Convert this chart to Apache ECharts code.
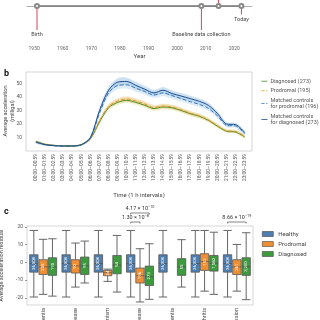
<!DOCTYPE html>
<html>
<head>
<meta charset="utf-8">
<script src="https://cdn.jsdelivr.net/npm/echarts@6/dist/echarts.min.js"></script>
<style>
html, body {margin: 0; padding: 0; background: #fff;}
#main {width: 320px; height: 320px;}
</style>
</head>
<body>
<div id="main"></div>
<script>
var FONT = 'Roboto, "Liberation Sans", sans-serif';

// ---- panel a : timeline
var yearTicks = [1950, 1960, 1970, 1980, 1990, 2000, 2010, 2020];
var eventYears = [1951, 2008.5, 2014.5, 2022.5];
var eventNames = ['Birth', 'Baseline data collection', '', 'Today'];
var eventStemEnds = [-4, -4, 1, -1.4];

// ---- panel b : 24 h acceleration profiles
var hourLabels = ['00:00–00:59', '01:00–01:59', '02:00–02:59', '03:00–03:59', '04:00–04:59', '05:00–05:59',
    '06:00–06:59', '07:00–07:59', '08:00–08:59', '09:00–09:59', '10:00–10:59', '11:00–11:59',
    '12:00–12:59', '13:00–13:59', '14:00–14:59', '15:00–15:59', '16:00–16:59', '17:00–17:59',
    '18:00–18:59', '19:00–19:59', '20:00–20:59', '21:00–21:59', '22:00–22:59', '23:00–23:59'];
var hourIndex = [0, 1, 2, 3, 4, 5, 6, 7, 8, 9, 10, 11, 12, 13, 14, 15, 16, 17, 18, 19, 20, 21, 22, 23];
var diagnosed = [7.0, 5.0, 4.2, 3.8, 3.8, 4.6, 9.0, 21.5, 32.0, 36.0, 37.5, 36.0, 33.8, 31.4, 32.6, 32.0, 30.0, 27.6, 25.7, 22.7, 18.3, 14.6, 14.0, 10.4];
var prodromal = [6.8, 4.9, 4.1, 3.8, 3.8, 4.6, 9.2, 22.5, 33.0, 37.0, 38.5, 37.0, 34.8, 32.2, 33.2, 32.5, 30.5, 28.0, 26.0, 23.0, 18.8, 15.0, 14.5, 10.8];
var ctrlProdromal = [6.5, 4.6, 3.9, 3.6, 3.6, 4.6, 9.5, 28.0, 43.0, 48.5, 49.0, 46.5, 44.0, 41.5, 43.0, 41.0, 38.8, 36.5, 34.5, 31.5, 26.0, 19.0, 18.5, 13.0];
var ctrlDiagnosed = [6.7, 4.7, 4.0, 3.7, 3.7, 4.7, 10.0, 30.0, 45.0, 51.0, 51.5, 48.6, 45.7, 43.0, 45.0, 42.5, 40.7, 38.8, 36.8, 33.8, 27.7, 20.0, 19.5, 13.6];
var ciControls = [1.0, 0.7, 0.6, 0.6, 0.6, 0.7, 1.0, 2.0, 2.5, 2.8, 2.8, 2.6, 2.4, 2.3, 2.4, 2.3, 2.2, 2.1, 2.0, 1.9, 1.7, 1.4, 1.4, 1.2];
var ciCases = [0.8, 0.6, 0.5, 0.5, 0.5, 0.6, 0.9, 1.5, 1.8, 2.0, 2.0, 1.9, 1.8, 1.7, 1.8, 1.7, 1.6, 1.6, 1.5, 1.4, 1.3, 1.1, 1.1, 1.0];

// ---- panel c : residuals per disorder [low, q1, median, q3, high]
var disorders = ['All-cause dementia', "Alzheimer's disease", 'Parkinsonism', "Parkinson's disease",
    'Vascular dementia', 'Osteoarthritis', 'Depression'];
var healthyBox = [
    [-19.5, -5.5, -0.7, 4.3, 18], [-19.5, -5.5, -0.7, 4.3, 18], [-19.5, -5.5, -0.7, 4.3, 18],
    [-19.5, -5.5, -0.7, 4.3, 18], [-19.5, -5.5, -0.7, 4.3, 18], [-19.5, -5.5, -0.7, 4.3, 18],
    [-19.5, -5.5, -0.7, 4.3, 18]];
var prodromalBox = [
    [-18, -6.8, -2.5, 1.5, 13], [-13.9, -6, -2, 1.5, 10.9], [-10.7, -7.5, -5.8, -4.5, -3.8],
    [-22.3, -11.6, -7.5, -3.2, 7.7], null, [-16.2, -4.5, 0.5, 4.9, 18], [-16.2, -6.8, -2.5, 1.5, 10.1]];
var diagnosedBox = [
    [-19, -7.3, -2.5, 2.6, 13.3], [-11.6, -6.8, -2, 3, 12], [-16.7, -6.4, -1.5, 3.9, 15.2],
    [-20.8, -13, -8, -2.1, 10.5], [-13.9, -7.3, -2.5, 2.1, 12.8], [-18, -4.9, -0.5, 3.9, 17],
    [-21, -7.3, -2.5, 2.6, 16.7]];
var healthyN = ['36,008', '36,008', '36,008', '36,008', '36,008', '36,008', '36,008'];
var prodromalN = ['205', '90', '24', '196', '', '152', '261'];
var diagnosedN = ['190', '95', '54', '273', '55', '1,560', '3,230'];

var BOX_W = 8.4, BOX_STEP = 9.3;

var chart = echarts.init(document.getElementById('main'));

function bandSeries(vals, ci, color, opacity) {
    return {
        type: 'custom', xAxisIndex: 1, yAxisIndex: 1, silent: true, z: 1,
        data: hourIndex.map(function (h, i) { return [h, vals[i] - ci[i], vals[i] + ci[i]]; }),
        renderItem: function (params, api) {
            if (params.dataIndex !== 0) return;
            var up = [], lo = [];
            hourIndex.forEach(function (h, i) {
                up.push(api.coord([h, vals[i] + ci[i]]));
                lo.unshift(api.coord([h, vals[i] - ci[i]]));
            });
            return {type: 'polygon', shape: {points: up.concat(lo), smooth: 0.3}, style: {fill: color, opacity: opacity}};
        }
    };
}

function lineSeries(name, vals, color, type) {
    return {
        name: name, type: 'line', xAxisIndex: 1, yAxisIndex: 1, symbol: 'none', smooth: 0.3, z: 3,
        data: hourIndex.map(function (h, i) { return [h, vals[i]]; }),
        lineStyle: {color: color, width: 1, type: type}, itemStyle: {color: color}
    };
}

function boxSeries(name, rows, counts, color, slot) {
    var data = [];
    rows.forEach(function (r, i) { if (r) data.push([i].concat(r)); });
    return {
        name: name, type: 'custom', xAxisIndex: 2, yAxisIndex: 2, itemStyle: {color: color},
        data: data,
        renderItem: function (params, api) {
            var cat = api.value(0);
            var cx = api.coord([cat, 0])[0] + slot * BOX_STEP;
            var yl = api.coord([cat, api.value(1)])[1];
            var y1 = api.coord([cat, api.value(2)])[1];
            var ym = api.coord([cat, api.value(3)])[1];
            var y3 = api.coord([cat, api.value(4)])[1];
            var yh = api.coord([cat, api.value(5)])[1];
            var h = BOX_W / 2, wc = '#666';
            return {type: 'group', children: [
                {type: 'line', shape: {x1: cx, y1: yh, x2: cx, y2: y3}, style: {stroke: wc, lineWidth: 1}},
                {type: 'line', shape: {x1: cx, y1: y1, x2: cx, y2: yl}, style: {stroke: wc, lineWidth: 1}},
                {type: 'line', shape: {x1: cx - h, y1: yh, x2: cx + h, y2: yh}, style: {stroke: wc, lineWidth: 1}},
                {type: 'line', shape: {x1: cx - h, y1: yl, x2: cx + h, y2: yl}, style: {stroke: wc, lineWidth: 1}},
                {type: 'rect', shape: {x: cx - h, y: y3, width: BOX_W, height: y1 - y3},
                    style: {fill: color, stroke: '#555', lineWidth: 0.8}},
                {type: 'line', shape: {x1: cx - h, y1: ym, x2: cx + h, y2: ym}, style: {stroke: '#444', lineWidth: 0.6}},
                {type: 'text', x: cx, y: (y1 + y3) / 2, rotation: Math.PI / 2,
                    style: {text: counts[cat], fill: '#fff', fontSize: 4.3, fontFamily: FONT, align: 'center', verticalAlign: 'middle'}}
            ]};
        }
    };
}

var option = {
    animation: false,
    backgroundColor: '#fff',
    textStyle: {fontFamily: FONT},
    title: [
        {text: 'b', left: -1, top: 64, textStyle: {fontSize: 9, fontWeight: 'bold', color: '#111'}},
        {text: 'c', left: -1, top: 202, textStyle: {fontSize: 9, fontWeight: 'bold', color: '#111'}}
    ],
    legend: [{
        data: ['Diagnosed (273)', 'Prodromal (195)', 'Matched controls\nfor prodromal (196)', 'Matched controls\nfor diagnosed (273)'],
        orient: 'vertical', left: 256, top: 73, itemWidth: 6, itemHeight: 4, itemGap: 3,
        itemStyle: {opacity: 0}, lineStyle: {width: 0.8},
        textStyle: {fontSize: 5.5, color: '#555', lineHeight: 6.5, padding: [0, 0, 0, -2]}
    }, {
        data: ['Healthy', 'Prodromal', 'Diagnosed'],
        orient: 'vertical', left: 257, top: 226, itemWidth: 11, itemHeight: 5, itemGap: 4, icon: 'rect',
        itemStyle: {borderColor: '#444', borderWidth: 0.6},
        textStyle: {fontSize: 6, color: '#444'}
    }],
    grid: [
        {left: 27, right: 68, top: 0, height: 42, outerBoundsMode: 'none'},
        {left: 26, right: 68, top: 72, height: 79, show: true, borderColor: '#ccc', borderWidth: 0.8, outerBoundsMode: 'none'},
        {left: 27, right: 67, top: 226, height: 79, show: true, borderColor: '#ccc', borderWidth: 0.8, outerBoundsMode: 'none'}
    ],
    xAxis: [{
        gridIndex: 0, type: 'value', min: 1947.5, max: 2026.2,
        name: 'Year', nameLocation: 'middle', nameGap: 11, nameTextStyle: {fontSize: 6, color: '#444'},
        axisLine: {lineStyle: {color: '#999', width: 0.8}}, axisTick: {show: false}, splitLine: {show: false},
        axisLabel: {customValues: yearTicks, fontSize: 5, color: '#666', margin: 4,
            formatter: function (v) { return String(v); }}
    }, {
        gridIndex: 1, type: 'value', min: -1.1, max: 23.8,
        name: 'Time (1 h intervals)', nameLocation: 'middle', nameGap: 41, nameTextStyle: {fontSize: 6, color: '#444'},
        axisLine: {show: false}, axisTick: {show: false}, splitLine: {show: false},
        axisLabel: {customValues: hourIndex, rotate: 90, fontSize: 4.8, color: '#555', margin: 3,
            formatter: function (v) { return hourLabels[v]; }}
    }, {
        gridIndex: 2, type: 'category', data: disorders,
        axisLine: {show: false}, axisTick: {show: false},
        axisLabel: {rotate: 90, fontSize: 5.5, color: '#444', margin: 3, interval: 0}
    }],
    yAxis: [{
        gridIndex: 0, type: 'value', min: -6, max: 1, show: false
    }, {
        gridIndex: 1, type: 'value', min: 0, max: 58.5, interval: 10,
        axisLine: {show: false}, axisTick: {show: false}, splitLine: {show: false},
        axisLabel: {fontSize: 5, color: '#555', margin: 4, showMinLabel: false, showMaxLabel: false}
    }, {
        gridIndex: 2, type: 'value', min: -24, max: 20.5,
        name: 'Average acceleration residual', nameLocation: 'middle', nameGap: 15,
        nameTextStyle: {fontSize: 5.5, color: '#444'},
        axisLine: {show: false}, axisTick: {show: true, customValues: [-20, -10, 0, 10, 20], length: 2, lineStyle: {color: '#999'}},
        splitLine: {show: false},
        axisLabel: {customValues: [-20, -10, 0, 10, 20], fontSize: 5, color: '#555', margin: 4}
    }],
    series: [
        {
            type: 'custom', xAxisIndex: 0, yAxisIndex: 0, silent: true, z: 1,
            data: eventYears.map(function (y, i) { return [y, eventStemEnds[i]]; }),
            renderItem: function (params, api) {
                var p0 = api.coord([api.value(0), 0]);
                var p1 = api.coord([api.value(0), api.value(1)]);
                return {type: 'group', children: [
                    {type: 'line', shape: {x1: p0[0], y1: p0[1], x2: p1[0], y2: p1[1]}, style: {stroke: '#d6455c', lineWidth: 1}},
                    {type: 'text', x: p1[0], y: p1[1] + 2,
                        style: {text: eventNames[params.dataIndex], fill: '#444', fontSize: 5.5, fontFamily: FONT, align: 'center', verticalAlign: 'top'}}
                ]};
            }
        },
        {
            type: 'line', xAxisIndex: 0, yAxisIndex: 0, silent: true, z: 3,
            data: eventYears.map(function (y) { return [y, 0]; }),
            symbol: 'emptyCircle', symbolSize: 4,
            lineStyle: {color: '#777', width: 1.5}, itemStyle: {color: '#888', borderWidth: 0.8}
        },
        bandSeries(ctrlDiagnosed, ciControls, '#6fa8dc', 0.35),
        bandSeries(ctrlProdromal, ciControls, '#8fbde6', 0.3),
        bandSeries(prodromal, ciCases, '#f3b562', 0.4),
        bandSeries(diagnosed, ciCases, '#d3d977', 0.35),
        lineSeries('Diagnosed (273)', diagnosed, '#4f8a2e', 'solid'),
        lineSeries('Prodromal (195)', prodromal, '#d99a2b', 'dashed'),
        lineSeries('Matched controls\nfor prodromal (196)', ctrlProdromal, '#3a78bd', 'dashed'),
        lineSeries('Matched controls\nfor diagnosed (273)', ctrlDiagnosed, '#1f4e89', 'solid'),
        boxSeries('Healthy', healthyBox, healthyN, '#4f7fb0', -1),
        boxSeries('Prodromal', prodromalBox, prodromalN, '#ef8f35', 0),
        boxSeries('Diagnosed', diagnosedBox, diagnosedN, '#3d9a3d', 1)
    ]
};
chart.setOption(option);

// panel b y-axis title and significance brackets above panel c
var marks = [{
    type: 'text', silent: true, x: 9, y: 111, rotation: Math.PI / 2,
    style: {text: 'Average acceleration\n(milligal)', fontSize: 5.5, lineHeight: 7, fill: '#444', fontFamily: FONT,
        align: 'center', verticalAlign: 'middle'}
}];
var sig = [
    {cat: 3, from: -1, to: 1, text: '4.17 × 10', exp: '−10', y: 213},
    {cat: 3, from: -1, to: 0, text: '1.30 × 10', exp: '−8', y: 222},
    {cat: 6, from: -1, to: 1, text: '8.66 × 10', exp: '−19', y: 222}
];
sig.forEach(function (s) {
    var cx = chart.convertToPixel({xAxisIndex: 2}, s.cat);
    var x1 = cx + s.from * BOX_STEP, x2 = cx + s.to * BOX_STEP;
    marks.push({type: 'polyline', silent: true, shape: {points: [[x1, s.y + 1.5], [x1, s.y], [x2, s.y], [x2, s.y + 1.5]]},
        style: {stroke: '#333', lineWidth: 0.6, fill: null}});
    marks.push({type: 'text', silent: true, x: (x1 + x2) / 2, y: s.y - 0.5,
        style: {text: '{a|' + s.text + '}{e|' + s.exp + '}', align: 'center', verticalAlign: 'bottom',
            rich: {a: {fontSize: 5.5, fill: '#333', fontFamily: FONT}, e: {fontSize: 3.8, fill: '#333', fontFamily: FONT, verticalAlign: 'top', padding: [0, 0, 3, 0]}}}});
});
chart.setOption({graphic: marks});
</script>
</body>
</html>
